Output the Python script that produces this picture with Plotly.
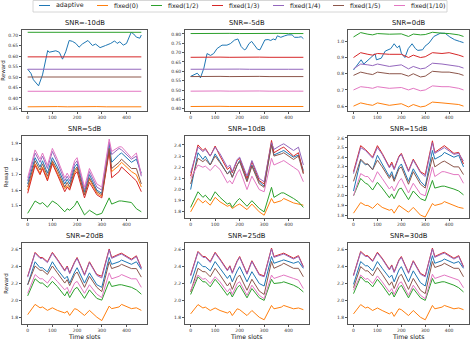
import plotly.graph_objects as go

SERIES_NAMES = ["adaptive", "fixed(0)", "fixed(1/2)", "fixed(1/3)", "fixed(1/4)", "fixed(1/5)", "fixed(1/10)"]
PANEL_TITLES = ["SNR=-10dB", "SNR=-5dB", "SNR=0dB", "SNR=5dB", "SNR=10dB", "SNR=15dB",
                "SNR=20dB", "SNR=25dB", "SNR=30dB"]
X_TICKS = [0, 100, 200, 300, 400]

# ---------- SNR=-10dB ----------
FLAT_X = [0, 40, 80, 120, 160, 200, 240, 280, 320, 360, 400, 460]
M10_ADAPT_X = [0, 13, 23, 38, 44, 60, 81, 87, 101, 114, 128, 141, 154, 168, 181, 195, 208, 221, 244, 262,
               275, 293, 315, 336, 352, 362, 373, 387, 400, 419, 429, 440, 454, 460]
M10_ADAPT = [0.537, 0.518, 0.487, 0.463, 0.458, 0.510, 0.626, 0.618, 0.621, 0.625, 0.618, 0.585, 0.620,
             0.674, 0.670, 0.660, 0.642, 0.657, 0.674, 0.650, 0.657, 0.640, 0.650, 0.660, 0.672, 0.660,
             0.668, 0.652, 0.660, 0.713, 0.705, 0.690, 0.685, 0.700]
M10_FIXED0 = [0.358, 0.359, 0.358, 0.359, 0.358, 0.359, 0.358, 0.359, 0.358, 0.359, 0.358, 0.358]
M10_FIXED1_2 = [0.713, 0.713, 0.714, 0.713, 0.713, 0.712, 0.713, 0.713, 0.714, 0.713, 0.713, 0.713]
M10_FIXED1_3 = [0.596, 0.596, 0.597, 0.596, 0.596, 0.595, 0.596, 0.596, 0.597, 0.596, 0.595, 0.596]
M10_FIXED1_4 = [0.537, 0.537, 0.538, 0.537, 0.537, 0.536, 0.537, 0.537, 0.538, 0.537, 0.537, 0.537]
M10_FIXED1_5 = [0.500, 0.500, 0.501, 0.500, 0.500, 0.499, 0.500, 0.500, 0.501, 0.500, 0.500, 0.500]
M10_FIXED1_10 = [0.432, 0.432, 0.433, 0.432, 0.432, 0.431, 0.432, 0.432, 0.433, 0.432, 0.432, 0.432]

# ---------- SNR=-5dB ----------
M5_ADAPT_X = [0, 13, 27, 34, 40, 54, 67, 81, 94, 108, 128, 148, 162, 179, 193, 206, 219, 225, 238, 249,
              260, 273, 283, 290, 303, 316, 327, 337, 346, 354, 368, 384, 397, 414, 424, 440, 451, 460]
M5_ADAPT = [0.573, 0.580, 0.590, 0.580, 0.565, 0.617, 0.695, 0.685, 0.695, 0.722, 0.740, 0.740, 0.748,
            0.767, 0.773, 0.733, 0.715, 0.718, 0.748, 0.760, 0.740, 0.718, 0.715, 0.733, 0.768, 0.770,
            0.765, 0.773, 0.768, 0.790, 0.782, 0.790, 0.795, 0.795, 0.782, 0.782, 0.785, 0.775]
M5_FIXED0 = [0.412, 0.413, 0.412, 0.413, 0.412, 0.412, 0.413, 0.412, 0.413, 0.412, 0.413, 0.412]
M5_FIXED1_2 = [0.802, 0.803, 0.802, 0.803, 0.803, 0.802, 0.803, 0.802, 0.803, 0.803, 0.802, 0.802]
M5_FIXED1_3 = [0.675, 0.676, 0.675, 0.676, 0.675, 0.676, 0.675, 0.676, 0.675, 0.676, 0.675, 0.675]
M5_FIXED1_4 = [0.611, 0.612, 0.611, 0.612, 0.611, 0.612, 0.611, 0.612, 0.611, 0.612, 0.611, 0.611]
M5_FIXED1_5 = [0.572, 0.573, 0.572, 0.573, 0.572, 0.573, 0.572, 0.573, 0.572, 0.573, 0.572, 0.572]
M5_FIXED1_10 = [0.494, 0.495, 0.494, 0.495, 0.494, 0.495, 0.494, 0.495, 0.494, 0.495, 0.494, 0.494]

# ---------- SNR=0dB ----------
P0_X = [0, 30, 60, 80, 100, 150, 200, 230, 250, 280, 300, 330, 370, 400, 440, 460]
P0_ADAPT_X = [0, 23, 32, 43, 70, 90, 96, 116, 125, 133, 156, 170, 183, 192, 200, 215, 229, 245, 259, 269,
              289, 299, 316, 336, 363, 383, 403, 423, 443, 460]
P0_ADAPT = [0.823, 0.870, 0.886, 0.860, 0.898, 0.923, 0.886, 0.896, 0.920, 0.940, 0.955, 0.985, 0.960,
            0.973, 0.927, 0.900, 0.955, 0.985, 0.955, 0.944, 0.948, 0.970, 0.990, 1.030, 1.050, 1.050,
            1.027, 1.010, 1.000, 0.992]
P0_FIXED0 = [0.600, 0.620, 0.610, 0.605, 0.620, 0.605, 0.615, 0.595, 0.610, 0.595, 0.600, 0.625, 0.620, 0.615, 0.610, 0.600]
P0_FIXED1_2 = [1.027, 1.054, 1.044, 1.040, 1.048, 1.044, 1.046, 1.030, 1.045, 1.040, 1.042, 1.056, 1.050, 1.048, 1.040, 1.030]
P0_FIXED1_3 = [0.900, 0.930, 0.920, 0.915, 0.925, 0.920, 0.920, 0.900, 0.915, 0.900, 0.905, 0.930, 0.925, 0.930, 0.915, 0.905]
P0_FIXED1_4 = [0.830, 0.860, 0.855, 0.850, 0.860, 0.845, 0.855, 0.830, 0.845, 0.830, 0.835, 0.865, 0.860, 0.855, 0.845, 0.835]
P0_FIXED1_5 = [0.790, 0.810, 0.800, 0.795, 0.810, 0.800, 0.800, 0.785, 0.800, 0.780, 0.785, 0.815, 0.810, 0.810, 0.800, 0.790]
P0_FIXED1_10 = [0.700, 0.720, 0.715, 0.710, 0.720, 0.710, 0.715, 0.700, 0.710, 0.695, 0.700, 0.725, 0.720, 0.720, 0.710, 0.700]

# ---------- shared time slots for SNR >= 5dB ----------
KEY_X = [0, 30, 50, 60, 80, 100, 120, 150, 160, 170, 190, 200, 230, 250, 280, 300, 330, 340, 370, 380, 420, 440, 460]

# SNR=5dB
P5_ADAPT = [1.64, 1.81, 1.75, 1.79, 1.71, 1.81, 1.75, 1.64, 1.67, 1.64, 1.75, 1.77, 1.59, 1.70, 1.60, 1.58, 1.90, 1.78, 1.83, 1.84, 1.78, 1.80, 1.71]
P5_FIXED0 = [1.60, 1.77, 1.71, 1.75, 1.67, 1.78, 1.71, 1.61, 1.63, 1.61, 1.71, 1.74, 1.57, 1.67, 1.58, 1.56, 1.86, 1.72, 1.76, 1.78, 1.72, 1.70, 1.62]
P5_FIXED1_2 = [1.45, 1.53, 1.51, 1.52, 1.49, 1.53, 1.51, 1.46, 1.48, 1.47, 1.50, 1.53, 1.44, 1.47, 1.44, 1.45, 1.55, 1.51, 1.53, 1.53, 1.52, 1.48, 1.46]
P5_FIXED1_3 = [1.58, 1.76, 1.70, 1.74, 1.66, 1.77, 1.70, 1.59, 1.62, 1.60, 1.70, 1.72, 1.55, 1.65, 1.57, 1.55, 1.85, 1.68, 1.72, 1.75, 1.69, 1.66, 1.59]
P5_FIXED1_4 = [1.66, 1.84, 1.78, 1.82, 1.74, 1.85, 1.78, 1.66, 1.69, 1.66, 1.77, 1.79, 1.60, 1.72, 1.62, 1.60, 1.91, 1.83, 1.87, 1.86, 1.80, 1.82, 1.69]
P5_FIXED1_5 = [1.62, 1.79, 1.73, 1.77, 1.69, 1.79, 1.73, 1.62, 1.65, 1.62, 1.73, 1.75, 1.57, 1.68, 1.59, 1.57, 1.87, 1.74, 1.78, 1.80, 1.74, 1.74, 1.64]
P5_FIXED1_10 = [1.68, 1.86, 1.80, 1.84, 1.76, 1.87, 1.80, 1.68, 1.71, 1.68, 1.79, 1.81, 1.62, 1.74, 1.64, 1.62, 1.93, 1.85, 1.88, 1.88, 1.81, 1.84, 1.70]

# SNR=10dB
P10_ADAPT = [2.00, 2.33, 2.27, 2.30, 2.22, 2.32, 2.25, 2.14, 2.17, 2.11, 2.22, 2.26, 2.08, 2.22, 2.07, 2.03, 2.41, 2.31, 2.34, 2.35, 2.29, 2.31, 2.17]
P10_FIXED0 = [1.80, 1.92, 1.88, 1.90, 1.86, 1.93, 1.89, 1.85, 1.86, 1.83, 1.86, 1.87, 1.82, 1.87, 1.80, 1.77, 1.92, 1.88, 1.90, 1.92, 1.88, 1.87, 1.86]
P10_FIXED1_2 = [1.84, 1.98, 1.93, 1.95, 1.90, 1.98, 1.93, 1.87, 1.88, 1.84, 1.90, 1.92, 1.85, 1.90, 1.83, 1.80, 2.02, 1.93, 1.97, 1.97, 1.92, 1.89, 1.84]
P10_FIXED1_3 = [2.12, 2.40, 2.35, 2.37, 2.30, 2.39, 2.30, 2.18, 2.20, 2.15, 2.26, 2.28, 2.10, 2.25, 2.08, 2.05, 2.44, 2.33, 2.37, 2.38, 2.30, 2.33, 2.15]
P10_FIXED1_4 = [2.15, 2.38, 2.34, 2.36, 2.30, 2.38, 2.32, 2.20, 2.22, 2.16, 2.27, 2.29, 2.12, 2.26, 2.10, 2.07, 2.42, 2.36, 2.40, 2.41, 2.35, 2.38, 2.22]
P10_FIXED1_5 = [2.05, 2.28, 2.25, 2.27, 2.22, 2.30, 2.24, 2.14, 2.16, 2.11, 2.22, 2.25, 2.07, 2.21, 2.05, 2.02, 2.40, 2.30, 2.32, 2.33, 2.27, 2.30, 2.14]
P10_FIXED1_10 = [2.10, 2.22, 2.20, 2.21, 2.17, 2.22, 2.18, 2.06, 2.08, 2.05, 2.15, 2.18, 2.00, 2.12, 2.00, 1.98, 2.28, 2.22, 2.25, 2.26, 2.20, 2.17, 2.07]

# SNR=15dB
P15_ADAPT = [2.05, 2.37, 2.32, 2.33, 2.27, 2.42, 2.33, 2.20, 2.25, 2.17, 2.30, 2.33, 2.15, 2.28, 2.15, 2.10, 2.47, 2.38, 2.42, 2.45, 2.40, 2.42, 2.30]
P15_FIXED0 = [1.82, 1.93, 1.90, 1.90, 1.87, 1.92, 1.88, 1.85, 1.86, 1.82, 1.90, 1.88, 1.83, 1.88, 1.80, 1.78, 1.92, 1.90, 1.92, 1.94, 1.90, 1.88, 1.87]
P15_FIXED1_2 = [2.00, 2.18, 2.13, 2.12, 2.06, 2.14, 2.08, 1.98, 2.02, 1.97, 2.07, 2.08, 1.96, 2.05, 1.97, 1.95, 2.16, 2.08, 2.10, 2.10, 2.07, 2.05, 2.01]
P15_FIXED1_3 = [2.25, 2.52, 2.48, 2.45, 2.40, 2.52, 2.44, 2.30, 2.35, 2.28, 2.41, 2.44, 2.26, 2.38, 2.25, 2.22, 2.57, 2.45, 2.50, 2.52, 2.44, 2.45, 2.33]
P15_FIXED1_4 = [2.23, 2.50, 2.47, 2.44, 2.39, 2.50, 2.43, 2.29, 2.33, 2.27, 2.40, 2.43, 2.25, 2.37, 2.24, 2.20, 2.55, 2.44, 2.49, 2.50, 2.43, 2.44, 2.36]
P15_FIXED1_5 = [2.15, 2.38, 2.33, 2.33, 2.27, 2.37, 2.30, 2.18, 2.22, 2.15, 2.28, 2.30, 2.12, 2.25, 2.12, 2.08, 2.40, 2.30, 2.35, 2.36, 2.30, 2.30, 2.22]
P15_FIXED1_10 = [2.00, 2.23, 2.20, 2.20, 2.14, 2.25, 2.18, 2.07, 2.10, 2.05, 2.15, 2.18, 2.03, 2.13, 2.02, 2.00, 2.30, 2.20, 2.25, 2.25, 2.22, 2.22, 2.13]

# SNR=20dB
P20_ADAPT = [2.18, 2.45, 2.38, 2.38, 2.33, 2.45, 2.36, 2.25, 2.28, 2.20, 2.33, 2.38, 2.20, 2.32, 2.18, 2.15, 2.50, 2.42, 2.45, 2.47, 2.42, 2.45, 2.36]
P20_FIXED0 = [1.83, 1.95, 1.91, 1.92, 1.88, 1.91, 1.88, 1.85, 1.87, 1.82, 1.90, 1.89, 1.82, 1.88, 1.80, 1.76, 1.93, 1.90, 1.92, 1.95, 1.90, 1.91, 1.88]
P20_FIXED1_2 = [2.05, 2.25, 2.20, 2.20, 2.15, 2.22, 2.16, 2.05, 2.10, 2.03, 2.13, 2.15, 2.02, 2.12, 2.02, 2.00, 2.22, 2.16, 2.18, 2.18, 2.15, 2.12, 2.07]
P20_FIXED1_3 = [2.28, 2.56, 2.50, 2.50, 2.45, 2.56, 2.48, 2.35, 2.40, 2.32, 2.45, 2.50, 2.30, 2.45, 2.30, 2.28, 2.60, 2.50, 2.54, 2.55, 2.48, 2.52, 2.38]
P20_FIXED1_4 = [2.27, 2.55, 2.49, 2.49, 2.44, 2.55, 2.47, 2.34, 2.39, 2.31, 2.44, 2.49, 2.29, 2.44, 2.29, 2.26, 2.59, 2.49, 2.53, 2.54, 2.47, 2.51, 2.37]
P20_FIXED1_5 = [2.18, 2.40, 2.35, 2.35, 2.30, 2.40, 2.32, 2.20, 2.24, 2.17, 2.30, 2.33, 2.15, 2.28, 2.15, 2.10, 2.45, 2.37, 2.40, 2.42, 2.37, 2.37, 2.27]
P20_FIXED1_10 = [2.08, 2.30, 2.25, 2.25, 2.20, 2.28, 2.22, 2.12, 2.15, 2.08, 2.20, 2.22, 2.08, 2.18, 2.07, 2.03, 2.32, 2.25, 2.28, 2.30, 2.25, 2.25, 2.15]

# SNR=25dB
P25_ADAPT = [2.20, 2.46, 2.40, 2.40, 2.35, 2.46, 2.38, 2.26, 2.30, 2.22, 2.35, 2.40, 2.22, 2.34, 2.20, 2.17, 2.52, 2.44, 2.47, 2.48, 2.44, 2.46, 2.38]
P25_FIXED0 = [1.84, 1.95, 1.91, 1.92, 1.88, 1.91, 1.88, 1.85, 1.87, 1.82, 1.90, 1.89, 1.82, 1.88, 1.80, 1.77, 1.94, 1.90, 1.92, 1.94, 1.90, 1.91, 1.89]
P25_FIXED1_2 = [2.07, 2.28, 2.22, 2.22, 2.16, 2.25, 2.18, 2.06, 2.10, 2.04, 2.15, 2.18, 2.03, 2.14, 2.03, 2.00, 2.25, 2.20, 2.21, 2.22, 2.18, 2.15, 2.10]
P25_FIXED1_3 = [2.30, 2.58, 2.52, 2.52, 2.46, 2.57, 2.49, 2.36, 2.41, 2.33, 2.47, 2.52, 2.32, 2.47, 2.31, 2.29, 2.62, 2.52, 2.55, 2.56, 2.50, 2.53, 2.40]
P25_FIXED1_4 = [2.29, 2.57, 2.51, 2.51, 2.45, 2.56, 2.48, 2.35, 2.40, 2.32, 2.46, 2.51, 2.31, 2.46, 2.30, 2.28, 2.61, 2.51, 2.54, 2.55, 2.49, 2.52, 2.39]
P25_FIXED1_5 = [2.10, 2.38, 2.34, 2.34, 2.28, 2.38, 2.30, 2.17, 2.21, 2.13, 2.27, 2.30, 2.12, 2.25, 2.11, 2.07, 2.46, 2.38, 2.42, 2.44, 2.38, 2.38, 2.28]
P25_FIXED1_10 = [2.12, 2.30, 2.25, 2.26, 2.20, 2.28, 2.22, 2.10, 2.14, 2.07, 2.20, 2.22, 2.06, 2.18, 2.06, 2.02, 2.30, 2.26, 2.29, 2.30, 2.26, 2.24, 2.14]

# SNR=30dB
P30_ADAPT = [2.19, 2.46, 2.41, 2.41, 2.35, 2.46, 2.38, 2.27, 2.30, 2.22, 2.36, 2.40, 2.22, 2.35, 2.21, 2.17, 2.53, 2.44, 2.47, 2.49, 2.44, 2.46, 2.38]
P30_FIXED0 = [1.84, 1.95, 1.91, 1.92, 1.88, 1.91, 1.88, 1.84, 1.86, 1.81, 1.90, 1.89, 1.82, 1.88, 1.80, 1.77, 1.94, 1.90, 1.92, 1.94, 1.90, 1.91, 1.89]
P30_FIXED1_2 = [2.08, 2.28, 2.22, 2.22, 2.16, 2.25, 2.18, 2.06, 2.10, 2.04, 2.15, 2.18, 2.03, 2.14, 2.03, 2.00, 2.26, 2.20, 2.22, 2.22, 2.18, 2.15, 2.10]
P30_FIXED1_3 = [2.30, 2.58, 2.53, 2.53, 2.47, 2.57, 2.50, 2.37, 2.42, 2.34, 2.48, 2.52, 2.33, 2.47, 2.32, 2.29, 2.62, 2.52, 2.56, 2.57, 2.50, 2.53, 2.40]
P30_FIXED1_4 = [2.29, 2.57, 2.52, 2.52, 2.46, 2.56, 2.49, 2.36, 2.41, 2.33, 2.47, 2.51, 2.32, 2.46, 2.31, 2.28, 2.61, 2.51, 2.55, 2.56, 2.49, 2.52, 2.39]
P30_FIXED1_5 = [2.15, 2.40, 2.35, 2.35, 2.29, 2.39, 2.31, 2.18, 2.22, 2.14, 2.28, 2.31, 2.13, 2.26, 2.12, 2.08, 2.46, 2.39, 2.42, 2.44, 2.38, 2.38, 2.28]
P30_FIXED1_10 = [2.12, 2.30, 2.25, 2.26, 2.20, 2.29, 2.22, 2.10, 2.14, 2.07, 2.20, 2.22, 2.06, 2.18, 2.06, 2.02, 2.31, 2.26, 2.29, 2.30, 2.26, 2.24, 2.15]

# ---------- assemble (x arrays for adaptive and for fixed series) ----------
PANELS = [
    (M10_ADAPT_X, M10_ADAPT, FLAT_X, [M10_FIXED0, M10_FIXED1_2, M10_FIXED1_3, M10_FIXED1_4, M10_FIXED1_5, M10_FIXED1_10]),
    (M5_ADAPT_X, M5_ADAPT, FLAT_X, [M5_FIXED0, M5_FIXED1_2, M5_FIXED1_3, M5_FIXED1_4, M5_FIXED1_5, M5_FIXED1_10]),
    (P0_ADAPT_X, P0_ADAPT, P0_X, [P0_FIXED0, P0_FIXED1_2, P0_FIXED1_3, P0_FIXED1_4, P0_FIXED1_5, P0_FIXED1_10]),
    (KEY_X, P5_ADAPT, KEY_X, [P5_FIXED0, P5_FIXED1_2, P5_FIXED1_3, P5_FIXED1_4, P5_FIXED1_5, P5_FIXED1_10]),
    (KEY_X, P10_ADAPT, KEY_X, [P10_FIXED0, P10_FIXED1_2, P10_FIXED1_3, P10_FIXED1_4, P10_FIXED1_5, P10_FIXED1_10]),
    (KEY_X, P15_ADAPT, KEY_X, [P15_FIXED0, P15_FIXED1_2, P15_FIXED1_3, P15_FIXED1_4, P15_FIXED1_5, P15_FIXED1_10]),
    (KEY_X, P20_ADAPT, KEY_X, [P20_FIXED0, P20_FIXED1_2, P20_FIXED1_3, P20_FIXED1_4, P20_FIXED1_5, P20_FIXED1_10]),
    (KEY_X, P25_ADAPT, KEY_X, [P25_FIXED0, P25_FIXED1_2, P25_FIXED1_3, P25_FIXED1_4, P25_FIXED1_5, P25_FIXED1_10]),
    (KEY_X, P30_ADAPT, KEY_X, [P30_FIXED0, P30_FIXED1_2, P30_FIXED1_3, P30_FIXED1_4, P30_FIXED1_5, P30_FIXED1_10]),
]

# axis settings (ranges, tick values)
Y_RANGES = [(0.338, 0.724), (0.388, 0.821), (0.57, 1.07),
            (1.42, 1.95), (1.745, 2.48), (1.77, 2.62),
            (1.72, 2.67), (1.72, 2.68), (1.72, 2.68)]
Y_TICKS = [[0.35, 0.40, 0.45, 0.50, 0.55, 0.60, 0.65, 0.70],
           [0.40, 0.45, 0.50, 0.55, 0.60, 0.65, 0.70, 0.75, 0.80],
           [0.6, 0.7, 0.8, 0.9, 1.0],
           [1.5, 1.6, 1.7, 1.8, 1.9],
           [1.8, 1.9, 2.0, 2.1, 2.2, 2.3, 2.4],
           [1.8, 1.9, 2.0, 2.1, 2.2, 2.3, 2.4, 2.5, 2.6],
           [1.8, 2.0, 2.2, 2.4, 2.6],
           [1.8, 2.0, 2.2, 2.4, 2.6],
           [1.8, 2.0, 2.2, 2.4, 2.6]]
Y_FMT = [".2f", ".2f", ".1f", ".1f", ".1f", ".1f", ".1f", ".1f", ".1f"]

COLORS = ["#1f77b4", "#ff7f0e", "#2ca02c", "#d62728", "#9467bd", "#8c564b", "#e377c2"]
W, H = 474, 341
COL_PX = [(22, 147), (185, 309), (348, 469)]
ROW_PX = [(30, 111), (136, 218), (243, 324)]
FONT = "DejaVu Sans"

fig = go.Figure()
layout = dict(
    width=W, height=H, margin=dict(l=0, r=0, t=0, b=0),
    paper_bgcolor="white", plot_bgcolor="white", showlegend=False,
    font=dict(family=FONT, color="#222"),
)
annotations = []
shapes = []

for i, (ax_x, ax_y, fx, fixed_list) in enumerate(PANELS):
    r, c = divmod(i, 3)
    k = "" if i == 0 else str(i + 1)
    xa, ya = "x" + k, "y" + k
    ys = [ax_y] + fixed_list
    xs = [ax_x] + [fx] * len(fixed_list)
    for j in range(7):
        fig.add_trace(go.Scatter(x=xs[j], y=ys[j], mode="lines", name=SERIES_NAMES[j],
                                 line=dict(color=COLORS[j], width=1), xaxis=xa, yaxis=ya,
                                 showlegend=False))
    x0, x1 = COL_PX[c]
    y0, y1 = ROW_PX[r]
    common = dict(showline=True, mirror=True, linecolor="#555", linewidth=0.8,
                  ticks="outside", ticklen=2, tickwidth=0.6, tickcolor="#555",
                  showgrid=False, zeroline=False,
                  tickfont=dict(size=4.5, family=FONT, color="#333"))
    layout["xaxis" + k] = dict(domain=[x0 / W, x1 / W], anchor=ya, range=[-23, 483],
                               tickvals=X_TICKS, **common)
    layout["yaxis" + k] = dict(domain=[1 - y1 / H, 1 - y0 / H], anchor=xa,
                               range=list(Y_RANGES[i]), tickvals=Y_TICKS[i],
                               tickformat=Y_FMT[i], **common)
    if c == 0:
        layout["yaxis" + k]["title"] = dict(text="Reward", font=dict(size=5.5, family=FONT), standoff=2)
    if r == 2:
        annotations.append(dict(text="Time slots", x=(x0 + x1) / 2 / W, y=1 - 336 / H,
                                xref="paper", yref="paper", xanchor="center", yanchor="middle",
                                showarrow=False, font=dict(size=6.2, family=FONT, color="#111")))
    annotations.append(dict(text=PANEL_TITLES[i], x=(x0 + x1) / 2 / W, y=1 - (y0 - 1) / H,
                            xref="paper", yref="paper", xanchor="center", yanchor="bottom",
                            showarrow=False, font=dict(size=6.8, family=FONT, color="#111")))

# legend box (drawn manually to match the compact matplotlib legend)
LEG_TEXT_X = [54, 112, 166, 227, 288, 348, 409]
shapes.append(dict(type="rect", xref="paper", yref="paper", x0=33 / W, x1=447 / W,
                   y0=1 - 12 / H, y1=1 - 0.5 / H, line=dict(color="#cccccc", width=0.8)))
for j, tx in enumerate(LEG_TEXT_X):
    shapes.append(dict(type="line", xref="paper", yref="paper", x0=(tx - 15) / W, x1=(tx - 4) / W,
                       y0=1 - 5.5 / H, y1=1 - 5.5 / H, line=dict(color=COLORS[j], width=1)))
    annotations.append(dict(text=SERIES_NAMES[j], x=tx / W, y=1 - 5.5 / H, xref="paper", yref="paper",
                            xanchor="left", yanchor="middle", showarrow=False,
                            font=dict(size=6.3, family=FONT, color="#222")))

layout["annotations"] = annotations
layout["shapes"] = shapes
fig.update_layout(**layout)
fig.write_html("out.html")
